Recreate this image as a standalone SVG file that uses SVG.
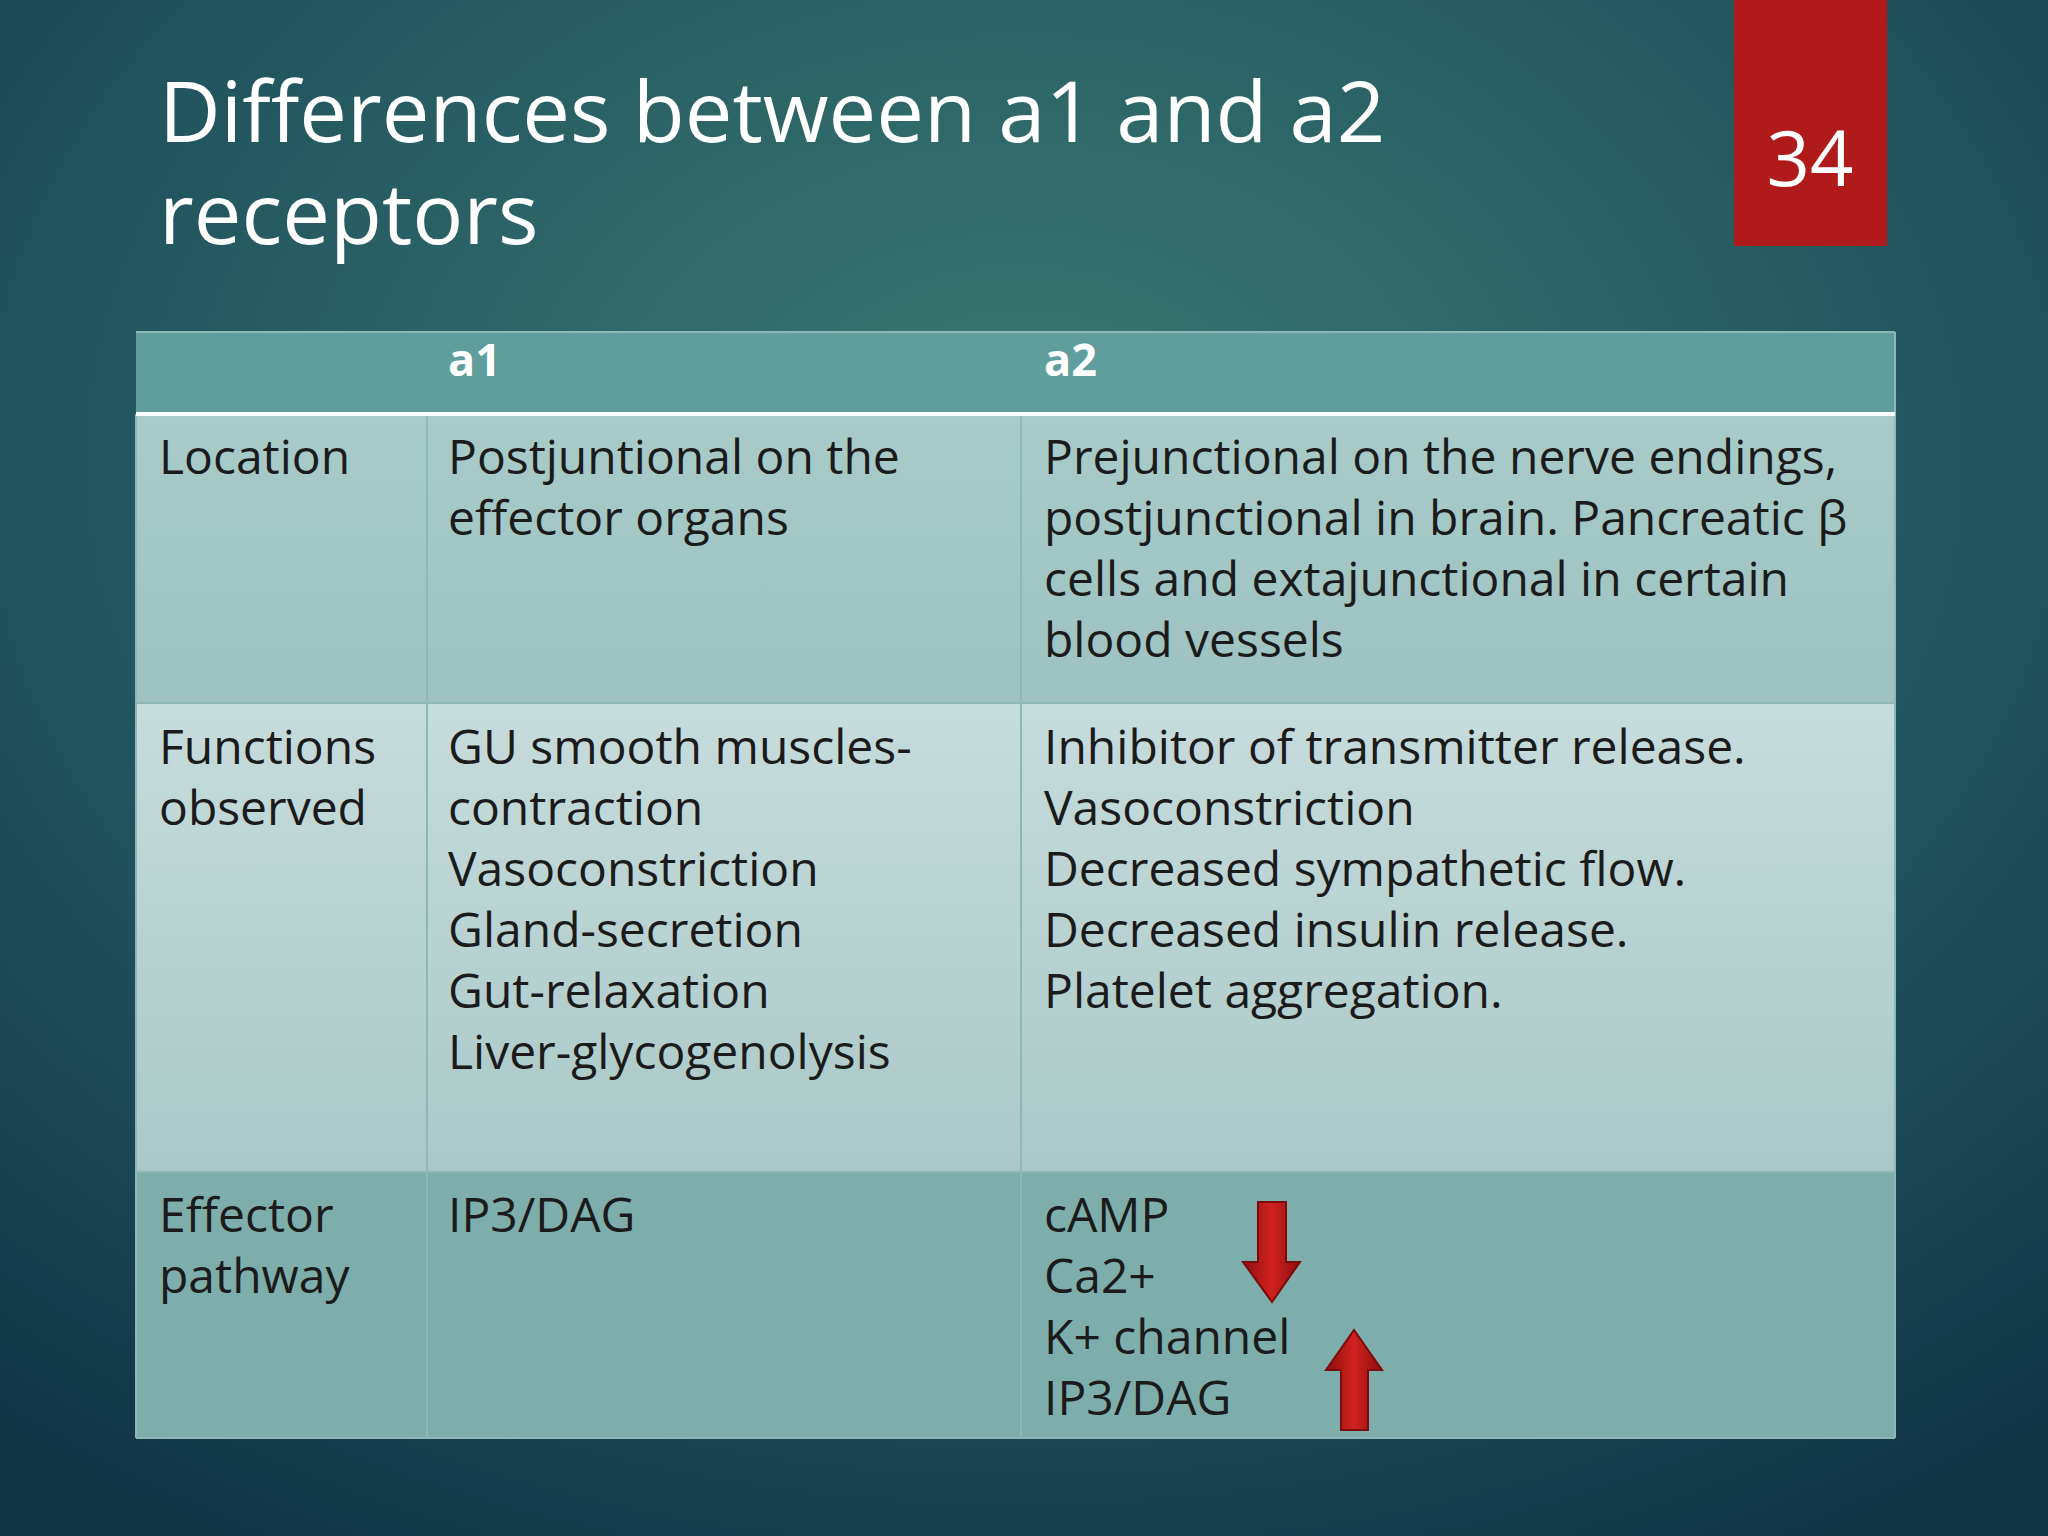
<svg xmlns="http://www.w3.org/2000/svg" width="2048" height="1536" viewBox="0 0 2048 1536">
<defs>
<radialGradient id="bg" cx="0.5" cy="0.3" r="0.8">
<stop offset="0" stop-color="#3b7a72"/><stop offset="0.6" stop-color="#21545e"/><stop offset="1" stop-color="#123546"/>
</radialGradient>
<linearGradient id="r1" x1="0" y1="0" x2="0" y2="1"><stop offset="0" stop-color="#a8cbc9"/><stop offset="1" stop-color="#9dc2c1"/></linearGradient>
<linearGradient id="r2" x1="0" y1="0" x2="0" y2="1"><stop offset="0" stop-color="#c7dcdc"/><stop offset="1" stop-color="#a9c8c7"/></linearGradient>
<linearGradient id="ar" x1="0" y1="0" x2="1" y2="0"><stop offset="0" stop-color="#8e1010"/><stop offset="0.5" stop-color="#d0211f"/><stop offset="1" stop-color="#8e1010"/></linearGradient>
</defs>
<style>
.t{font-family:"Open Sans","Noto Sans",sans-serif;font-size:48px;fill:#1b1b1b}
.h{font-family:"Open Sans","Noto Sans",sans-serif;font-size:45px;font-weight:bold;fill:#fff}
.ti{font-family:"Open Sans","Noto Sans",sans-serif;font-size:85px;fill:#fff}
.g{stroke:#8cb8b6;stroke-width:2;fill:none}
</style>
<rect width="2048" height="1536" fill="url(#bg)"/>
<g id="title"><text class="ti" x="159" y="142">Differences between a1 and a2</text><text class="ti" x="159" y="244">receptors</text></g>
<g id="pagenum"><rect x="1734" y="0" width="153" height="246" fill="#b01a1a"/><text x="1810" y="186" text-anchor="middle" font-family="Open Sans, sans-serif" font-size="76" fill="#fff">34</text></g>
<g id="table">
<rect x="136" y="332" width="1759" height="82" fill="#5f9e9d"/>
<rect x="136" y="414" width="1759" height="289" fill="url(#r1)"/>
<rect x="136" y="703" width="1759" height="469" fill="url(#r2)"/>
<rect x="136" y="1172" width="1759" height="266" fill="#7eaeab"/>
<path class="g" d="M136 703H1895M136 1172H1895M427 414V1438M1021 414V1438M136 414V1438M1895 332V1438M136 1438H1895M136 332H1895"/>
<line x1="136" y1="414" x2="1895" y2="414" stroke="#fff" stroke-width="4"/>
<text class="h" x="448" y="376">a1</text><text class="h" x="1044" y="376">a2</text>
<text class="t" x="159" y="474">Location</text>
<text class="t" x="448" y="474">Postjuntional on the<tspan x="448" dy="61">effector organs</tspan></text>
<text class="t" x="1044" y="474">Prejunctional on the nerve endings,<tspan x="1044" dy="61">postjunctional in brain. Pancreatic β</tspan><tspan x="1044" dy="61">cells and extajunctional in certain</tspan><tspan x="1044" dy="61">blood vessels</tspan></text>
<text class="t" x="159" y="764">Functions<tspan x="159" dy="61">observed</tspan></text>
<text class="t" x="448" y="764">GU smooth muscles-<tspan x="448" dy="61">contraction</tspan><tspan x="448" dy="61">Vasoconstriction</tspan><tspan x="448" dy="61">Gland-secretion</tspan><tspan x="448" dy="61">Gut-relaxation</tspan><tspan x="448" dy="61">Liver-glycogenolysis</tspan></text>
<text class="t" x="1044" y="764">Inhibitor of transmitter release.<tspan x="1044" dy="61">Vasoconstriction</tspan><tspan x="1044" dy="61">Decreased sympathetic flow.</tspan><tspan x="1044" dy="61">Decreased insulin release.</tspan><tspan x="1044" dy="61">Platelet aggregation.</tspan></text>
<text class="t" x="159" y="1232">Effector<tspan x="159" dy="61">pathway</tspan></text>
<text class="t" x="448" y="1232">IP3/DAG</text>
<text class="t" x="1044" y="1232">cAMP<tspan x="1044" dy="61">Ca2+</tspan><tspan x="1044" dy="61">K+ channel</tspan><tspan x="1044" dy="61">IP3/DAG</tspan></text>
</g>
<g id="arrow-down"><path d="M1258 1202H1286V1262H1300L1272 1302L1243 1262H1258Z" fill="url(#ar)" stroke="#7a0c0c" stroke-width="2"/></g>
<g id="arrow-up"><path d="M1341 1430H1368V1370H1382L1354 1330L1326 1370H1341Z" fill="url(#ar)" stroke="#7a0c0c" stroke-width="2"/></g>
</svg>
